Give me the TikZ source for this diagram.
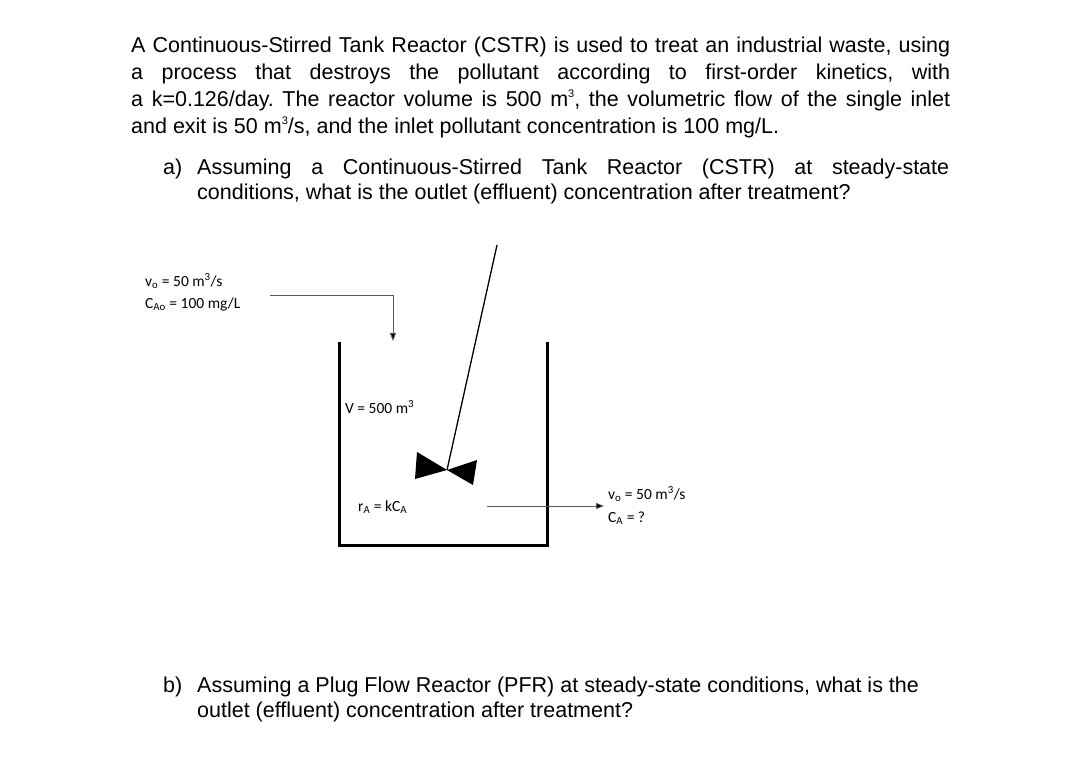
\documentclass[tikz,border=0pt]{standalone}
\usepackage{fontspec}
\setmainfont{Liberation Sans}
\newfontfamily\carlitofont{Carlito}
\usetikzlibrary{arrows.meta}
\newcommand\supthree{\raisebox{0.45em}{\fontsize{11}{11}\selectfont 3}}
\begin{document}
\frenchspacing
\begin{tikzpicture}[x=1pt,y=-1pt,
  para/.style={anchor=north west,inner sep=0pt,align=justify,font=\frenchspacing\fontsize{21.5}{27}\selectfont},
  lab/.style={anchor=west,inner sep=0pt,font=\carlitofont\fontsize{15.5}{16}\selectfont},
  wall/.style={line width=3pt},
  flow/.style={line width=0.8pt,gray!70!black,-{Triangle[length=8pt,width=6pt,fill=black]}}]
\useasboundingbox (0,0) rectangle (1080,778);
\node[para,text width=819pt] (p1) at (131,37) {A Continuous-Stirred Tank Reactor (CSTR) is used to treat an industrial waste, using\linebreak a process that destroys the pollutant according to first-order kinetics, with\linebreak a k=0.126/day. The reactor volume is 500 m\supthree, the volumetric flow of the single inlet\linebreak and exit is 50 m\supthree/s, and the inlet pollutant concentration is 100 mg/L.};
\node[para,anchor=north west,font=\fontsize{21.5}{25}\selectfont] (pa) at (163,159) {a)};
\node[para,text width=752pt,font=\frenchspacing\fontsize{21.5}{25}\selectfont] (pat) at (197,159) {Assuming a Continuous-Stirred Tank Reactor (CSTR) at steady-state\linebreak conditions, what is the outlet (effluent) concentration after treatment?};
\node[para,font=\fontsize{21.5}{25}\selectfont] (pb) at (163,677) {b)};
\node[para,align=left,font=\fontsize{21.5}{25}\selectfont] (pbt) at (197,677) {Assuming a Plug Flow Reactor (PFR) at steady-state conditions, what is the\\ outlet (effluent) concentration after treatment?};
% tank
\coordinate (tl) at (339,342); \coordinate (bl) at (339,545);
\coordinate (br) at (547,545); \coordinate (tr) at (547,342);
\draw[wall] (tl) -- (bl) -- (br) -- (tr);
% inlet
\node[lab] (vin) at (145,281) {v\textsubscript{o} = 50 m\textsuperscript{3}/s};
\node[lab] (cin) at (145,304) {C\textsubscript{Ao} = 100 mg/L};
\coordinate (i1) at (270,295); \coordinate (i2) at (393,295); \coordinate (i3) at (393,341);
\draw[flow] (i1) -- (i2) -- (i3);
% shaft and impeller
\coordinate (s1) at (497,245); \coordinate (hub) at (447,470);
\draw[line width=1.3pt] (s1) -- (hub);
\fill (hub) -- (417,452) -- (415,479) -- cycle;
\fill (hub) -- (477,460) -- (473,485) -- cycle;
% labels in tank
\node[lab] (vol) at (345,407) {V = 500 m\textsuperscript{3}};
\node[lab] (rate) at (358,507) {r\textsubscript{A} = kC\textsubscript{A}};
% outlet
\coordinate (o1) at (487,506); \coordinate (o2) at (604,506);
\draw[flow] (o1) -- (o2);
\node[lab] (vout) at (608,494) {v\textsubscript{o} = 50 m\textsuperscript{3}/s};
\node[lab] (cout) at (608,518) {C\textsubscript{A} = ?};
\end{tikzpicture}
\end{document}
